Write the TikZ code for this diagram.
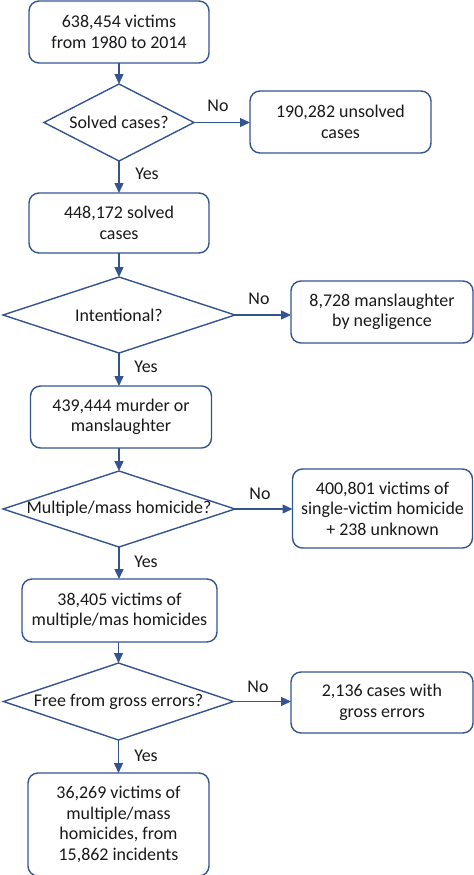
\documentclass[tikz,border=0pt]{standalone}
\usepackage{fontspec}
\setmainfont{Carlito}
\usetikzlibrary{shapes.geometric,arrows.meta}
\definecolor{lc}{RGB}{52,84,145}
\definecolor{tc}{RGB}{25,25,25}
\begin{document}
\begin{tikzpicture}[x=1bp,y=-1bp,
  box/.style={draw=lc, line width=1.4bp, rounded corners=10bp, align=center,
    inner sep=0pt, outer sep=0pt, text=tc, font=\fontsize{18}{20.5}\selectfont},
  dec/.style={draw=lc, line width=1.4bp, shape=diamond, inner sep=0pt, outer sep=0pt,
    text=tc, font=\fontsize{18}{20.5}\selectfont},
  arr/.style={draw=lc, line width=1.4bp, -{Triangle[length=10bp,width=9bp]}},
  lab/.style={text=tc, font=\fontsize{18}{20}\selectfont, inner sep=0pt}]
\useasboundingbox (0,0) rectangle (474,875);

% left column
\node[box, minimum width=180bp, minimum height=62bp] (b1) at (119,32) {638,454 victims\\from 1980 to 2014};
\node[dec, minimum width=150bp, minimum height=77bp] (d1) at (119,122.5) {\makebox[0pt]{Solved cases?}};
\node[box, minimum width=180bp, minimum height=60bp] (b2) at (119,223) {448,172 solved\\cases};
\node[dec, minimum width=232bp, minimum height=76bp] (d2) at (119,315) {\makebox[0pt]{Intentional?}};
\node[box, minimum width=181bp, minimum height=62bp] (b3) at (121,417) {439,444 murder or\\manslaughter};
\node[dec, minimum width=232bp, minimum height=76bp] (d3) at (119,509) {\makebox[0pt]{Multiple/mass homicide?}};
\node[box, minimum width=195bp, minimum height=63bp] (b4) at (119.5,610.5) {38,405 victims of\\multiple/mas homicides};
\node[dec, minimum width=230bp, minimum height=77bp] (d4) at (118.5,701.5) {\makebox[0pt]{Free from gross errors?}};
\node[box, minimum width=181bp, minimum height=103bp] (b5) at (118.5,824.5) {36,269 victims of\\multiple/mass\\homicides, from\\15,862 incidents};

% right column
\node[box, minimum width=181bp, minimum height=62bp] (u1) at (340.5,122) {190,282 unsolved\\cases};
\node[box, minimum width=182bp, minimum height=62bp] (u2) at (382,312) {8,728 manslaughter\\by negligence};
\node[box, minimum width=180bp, minimum height=79bp] (u3) at (382.5,508.5) {400,801 victims of\\single-victim homicide\\+ 238 unknown};
\node[box, minimum width=182bp, minimum height=61bp] (u4) at (382,702.5) {2,136 cases with\\gross errors};

% vertical arrows
\draw[arr] (b1.south -| d1.north) -- (d1.north);
\draw[arr] (d1.south) -- (b2.north -| d1.south);
\draw[arr] (b2.south -| d2.north) -- (d2.north);
\draw[arr] (d2.south) -- (b3.north -| d2.south);
\draw[arr] (b3.south -| d3.north) -- (d3.north);
\draw[arr] (d3.south) -- (b4.north -| d3.south);
\draw[arr] (b4.south -| d4.north) -- (d4.north);
\draw[arr] (d4.south) -- (b5.north -| d4.south);

% horizontal arrows
\draw[arr] (d1.east) -- (u1.west |- d1.east);
\draw[arr] (d2.east) -- (u2.west |- d2.east);
\draw[arr] (d3.east) -- (u3.west |- d3.east);
\draw[arr] (d4.east) -- (u4.west |- d4.east);

% labels
\node[lab] (n1) at (218,106) {No};
\node[lab] (y1) at (147,174) {Yes};
\node[lab] (n2) at (259,299) {No};
\node[lab] (y2) at (146,367) {Yes};
\node[lab] (n3) at (260,494) {No};
\node[lab] (y3) at (146,562) {Yes};
\node[lab] (n4) at (258,687) {No};
\node[lab] (y4) at (146,756) {Yes};
\end{tikzpicture}
\end{document}
